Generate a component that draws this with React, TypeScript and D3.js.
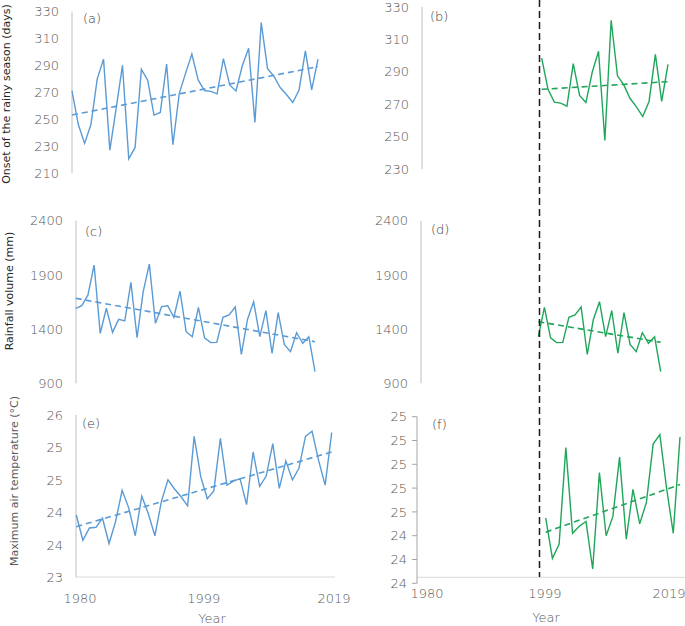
import * as d3 from 'd3';

// categories
const years = d3.range(1980, 2020);
const splitYear = 1999;

// series values (1980..2019)
const onsetDays = [
  271, 246, 232, 246, 280, 294.6, 227, 258, 290, 220.6,
  229, 287, 279, 253, 255, 291, 231, 269, 284, 298.4,
  279.2, 271.3, 270.7, 268.8, 295, 275.4, 271, 289.7, 302.7, 247.6,
  321.8, 287.5, 281.9, 273.5, 268.3, 262.4, 271.7, 300.8, 271.7, 294.6,
];
const rainfallMm = [
  1592, 1616, 1715, 1991, 1361, 1592, 1370, 1490, 1475, 1832,
  1321, 1745, 2000, 1453, 1607, 1616, 1509, 1751, 1376, 1330,
  1600, 1320, 1275, 1278, 1508, 1530, 1604, 1166, 1489, 1653,
  1330, 1570, 1177, 1552, 1258, 1192, 1367, 1269, 1330, 1007,
];
const maxTempC = [
  23.96, 23.57, 23.76, 23.77, 23.91, 23.52, 23.86, 24.34, 24.07, 23.64,
  24.25, 23.98, 23.64, 24.17, 24.50, 24.36, 24.24, 24.10, 25.17, 24.55,
  24.21, 24.33, 25.14, 24.42, 24.48, 24.52, 24.12, 24.93, 24.40, 24.56,
  25.06, 24.37, 24.79, 24.50, 24.68, 25.17, 25.25, 24.80, 24.42, 25.23,
];

// linear trends [start, end] of each panel's period
const onsetTrendAll = [253.1, 289];
const onsetTrendRecent = [279.2, 283.9];
const rainTrendAll = [1684, 1284];
const rainTrendRecent = [1468, 1278];
const tempTrendAll = [23.78, 24.93];
const tempTrendRecent = [24.43, 24.83];

// tick labels
const onsetTicksAll = [210, 230, 250, 270, 290, 310, 330];
const onsetTicksRecent = [230, 250, 270, 290, 310, 330];
const rainTicks = [900, 1400, 1900, 2400];
const tempTicksAll = [23, 23.5, 24, 24.5, 25, 25.5];
const tempTicksRecent = [24, 24.2, 24.4, 24.6, 24.8, 25, 25.2, 25.4];
const yearTicks = [1980, 1999, 2019];

const BLUE = '#5b9bd5';
const GREEN = '#1fa65a';
const FONT = '"DejaVu Sans", sans-serif';

type PanelCfg = {
  tag: string;
  values: number[];
  trend: number[];
  start: number;
  ticks: number[];
  yPx: [number, number]; // pixel of lowest / highest tick
  xPx: [number, number]; // pixel of 1980 / 2019
  axisX: number;
  labelX: number;
  tagXY: [number, number];
  color: string;
  tickMarks?: boolean;
  fmt?: (v: number) => string;
};

const panels: PanelCfg[] = [
  { tag: '(a)', values: onsetDays, trend: onsetTrendAll, start: 1980, ticks: onsetTicksAll,
    yPx: [173, 11.5], xPx: [72, 318], axisX: 72, labelX: 59, tagXY: [83, 23], color: BLUE },
  { tag: '(b)', values: onsetDays, trend: onsetTrendRecent, start: splitYear, ticks: onsetTicksRecent,
    yPx: [169, 7], xPx: [421.7, 668], axisX: 422, labelX: 409, tagXY: [430, 21], color: GREEN },
  { tag: '(c)', values: rainfallMm, trend: rainTrendAll, start: 1980, ticks: rainTicks,
    yPx: [383.3, 220.7], xPx: [75.7, 315], axisX: 76, labelX: 63, tagXY: [85, 236], color: BLUE },
  { tag: '(d)', values: rainfallMm, trend: rainTrendRecent, start: splitYear, ticks: rainTicks,
    yPx: [383.3, 220.7], xPx: [422, 660.7], axisX: 421, labelX: 408, tagXY: [431, 234], color: GREEN },
  { tag: '(e)', values: maxTempC, trend: tempTrendAll, start: 1980, ticks: tempTicksAll,
    yPx: [577.3, 415], xPx: [76.3, 331.7], axisX: 76, labelX: 63, tagXY: [82, 428], color: BLUE,
    fmt: (v) => v.toFixed(0) },
  { tag: '(f)', values: maxTempC, trend: tempTrendRecent, start: splitYear, ticks: tempTicksRecent,
    yPx: [583.3, 416.7], xPx: [418.1, 680], axisX: 417, labelX: 407, tagXY: [432, 429], color: GREEN,
    tickMarks: true, fmt: (v) => v.toFixed(0) },
];

function Panel({ cfg }: { cfg: PanelCfg }) {
  const yDomain = d3.extent(cfg.ticks) as [number, number];
  const y = d3.scaleLinear().domain(yDomain).range(cfg.yPx);
  const x = d3.scaleLinear().domain([1980, 2019]).range(cfg.xPx);
  const pts = years
    .map((yr, i) => ({ yr, v: cfg.values[i] }))
    .filter((d) => d.yr >= cfg.start);
  const line = d3.line<{ yr: number; v: number }>().x((d) => x(d.yr)).y((d) => y(d.v));
  const trend = [
    { yr: cfg.start, v: cfg.trend[0] },
    { yr: 2019, v: cfg.trend[1] },
  ];
  const fmt = cfg.fmt || ((v: number) => String(v));
  return (
    <g>
      <line x1={cfg.axisX} x2={cfg.axisX} y1={y(yDomain[0])} y2={y(yDomain[1])}
        stroke={cfg.tickMarks ? '#a6a6a6' : '#bfbfbf'} strokeWidth={1} />
      {cfg.ticks.map((t) => (
        <g key={t}>
          {cfg.tickMarks && (
            <line x1={cfg.axisX - 5} x2={cfg.axisX} y1={y(t)} y2={y(t)} stroke="#a6a6a6" />
          )}
          <text x={cfg.labelX} y={y(t)} dy="0.36em" textAnchor="end" fontSize={13}
            fill="#595959" fontFamily={FONT} fontWeight={200}>{fmt(t)}</text>
        </g>
      ))}
      <path d={line(trend) || ''} fill="none" stroke={cfg.color} strokeWidth={1.6}
        strokeDasharray="6,4" />
      <path d={line(pts) || ''} fill="none" stroke={cfg.color} strokeWidth={1.4}
        strokeLinejoin="miter" />
      <text x={cfg.tagXY[0]} y={cfg.tagXY[1]} fontSize={13} fill="#404040"
        fontFamily={FONT} fontWeight={200}>{cfg.tag}</text>
    </g>
  );
}

export default function App() {
  const xLeft = d3.scaleLinear().domain([1980, 2019]).range([80, 334]);
  const xRight = d3.scaleLinear().domain([1980, 2019]).range([427, 669]);
  return (
    <div style={{ position: 'absolute', left: 0, top: 0 }}>
      <svg width={685} height={626} style={{ display: 'block', background: '#fff' }}>
        {/* horizontal category axes of the bottom row */}
        <line x1={76} x2={335} y1={577} y2={577} stroke="#d9d9d9" />
        <line x1={417} x2={685} y1={577.3} y2={577.3} stroke="#d9d9d9" />

        {panels.map((p) => <Panel key={p.tag} cfg={p} />)}

        {/* split year marker */}
        <line x1={539.5} x2={539.5} y1={0} y2={577} stroke="#1a1a1a" strokeWidth={1.5}
          strokeDasharray="7,4" />

        {yearTicks.map((t) => (
          <text key={'l' + t} x={xLeft(t)} y={603} textAnchor="middle" fontSize={13}
            fill="#595959" fontFamily={FONT} fontWeight={200}>{t}</text>
        ))}
        {yearTicks.map((t) => (
          <text key={'r' + t} x={xRight(t)} y={598} textAnchor="middle" fontSize={13}
            fill="#595959" fontFamily={FONT} fontWeight={200}>{t}</text>
        ))}
        <text x={212} y={623} textAnchor="middle" fontSize={13} fill="#595959"
          fontFamily={FONT} fontWeight={200}>Year</text>
        <text x={546} y={622} textAnchor="middle" fontSize={13} fill="#595959"
          fontFamily={FONT} fontWeight={200}>Year</text>

        {/* y titles */}
        <text transform="translate(10,94) rotate(-90)" textAnchor="middle" fontSize={11}
          fill="#262626" fontFamily={FONT}>Onset of the rainy season (days)</text>
        <text transform="translate(13,291) rotate(-90)" textAnchor="middle" fontSize={11}
          fill="#262626" fontFamily={FONT}>Rainfall volume (mm)</text>
        <text transform="translate(18,481) rotate(-90)" textAnchor="middle" fontSize={11}
          fill="#595959" fontFamily={FONT}>Maximum air temperature (°C)</text>
      </svg>
    </div>
  );
}
